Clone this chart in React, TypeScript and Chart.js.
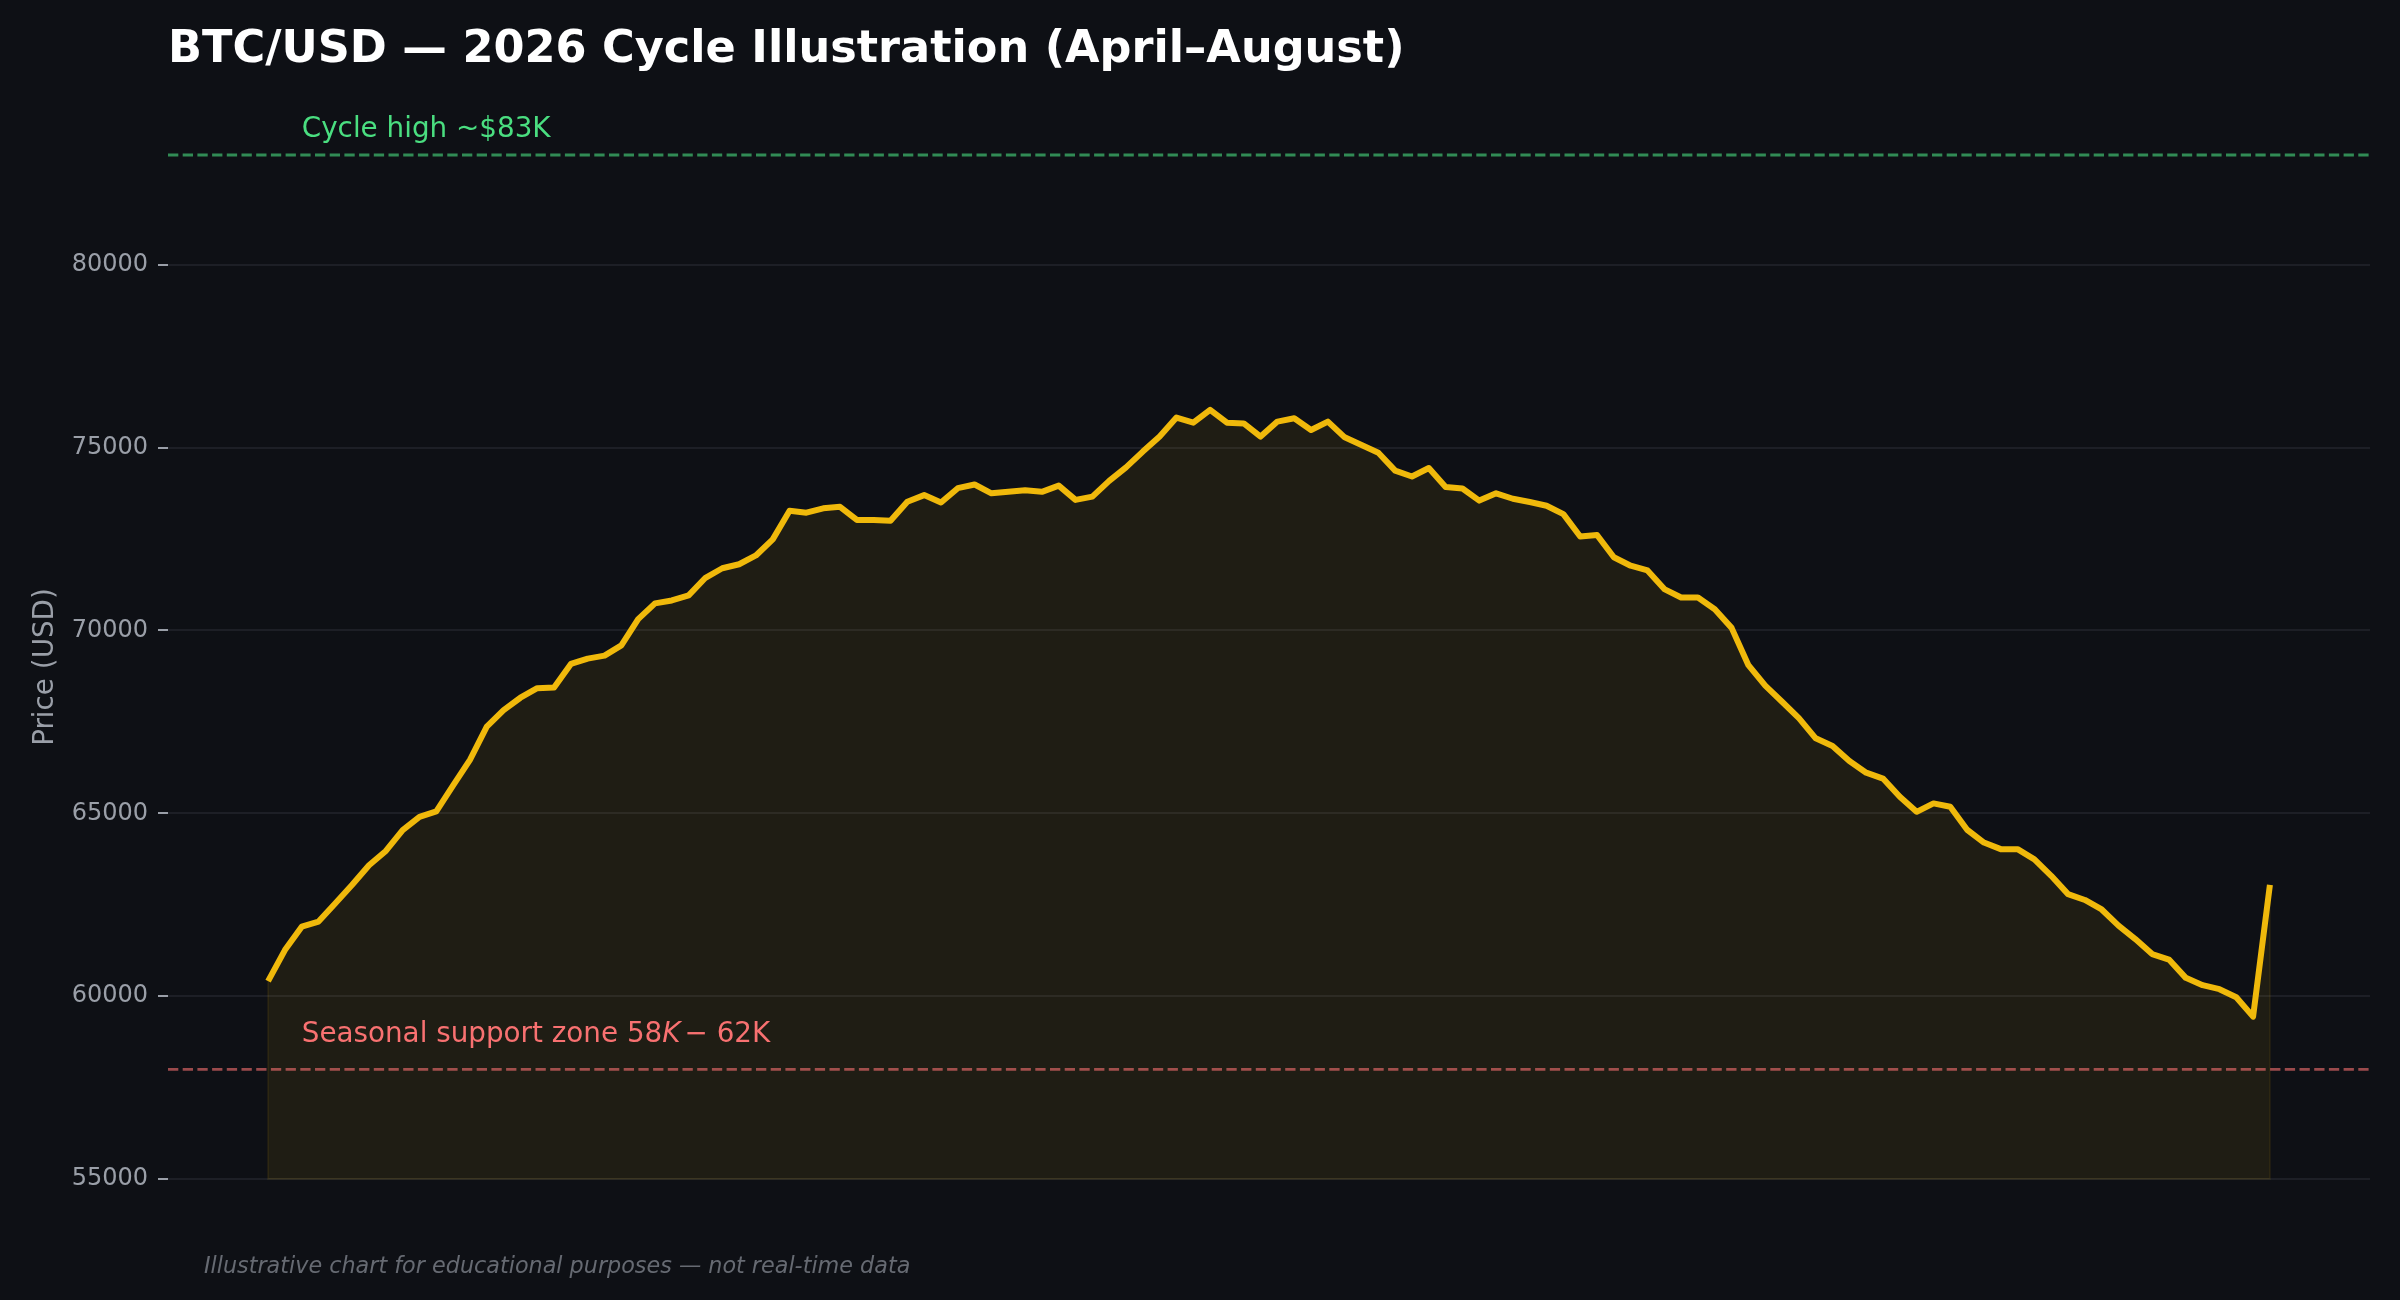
import { useEffect, useRef } from 'react';
import { Chart, registerables } from 'chart.js';

Chart.register(...registerables);

// daily closes, Apr -> early Aug (illustrative)
const prices = [
  60410, 61260, 61900, 62040, 62540, 63045, 63580, 63970, 64540, 64900,
  65050, 65760, 66460, 67370, 67820, 68160, 68420, 68440, 69085, 69230,
  69310, 69590, 70310, 70740, 70820, 70960, 71440, 71700, 71810, 72050,
  72490, 73270, 73220, 73340, 73380, 73020, 73020, 73000, 73520, 73700,
  73500, 73890, 73990, 73750, 73790, 73830, 73790, 73960, 73570, 73660,
  74090, 74460, 74890, 75300, 75820, 75680, 76030, 75680, 75660, 75300,
  75710, 75800, 75480, 75710, 75280, 75070, 74860, 74370, 74210, 74440,
  73920, 73880, 73550, 73750, 73600, 73510, 73410, 73180, 72570, 72610,
  72000, 71770, 71640, 71130, 70900, 70900, 70580, 70070, 69050, 68490,
  68050, 67600, 67050, 66840, 66430, 66110, 65950, 65450, 65040, 65270,
  65180, 64550, 64200, 64020, 64020, 63740, 63290, 62790, 62630, 62370,
  61930, 61560, 61150, 61000, 60500, 60300, 60190, 59970, 59440, 63040,
];

const yTicks = [55000, 60000, 65000, 70000, 75000, 80000];
const cycleHigh = 83000;
const supportLow = 58000;
const floorValue = 55000;

const BG = '#0e1015';
const GOLD = '#f0b90b';
const MUTED = '#9a9fa8';
const FONT = '"DejaVu Sans", sans-serif';

const decor = {
  id: 'decor',
  beforeDraw(chart: any) {
    const { ctx, width, height } = chart;
    ctx.save();
    ctx.fillStyle = BG;
    ctx.fillRect(0, 0, width, height);
    ctx.restore();
  },
  beforeDatasetsDraw(chart: any) {
    // faint outline of the shaded area, like matplotlib's fill_between edge
    const { ctx, scales } = chart;
    const x0 = scales.x.getPixelForValue(0);
    const x1 = scales.x.getPixelForValue(prices.length - 1);
    const yb = scales.y.getPixelForValue(floorValue);
    ctx.save();
    ctx.strokeStyle = 'rgba(240,185,11,0.08)';
    ctx.lineWidth = 2;
    ctx.beginPath();
    ctx.moveTo(x0, scales.y.getPixelForValue(prices[0]));
    ctx.lineTo(x0, yb);
    ctx.lineTo(x1, yb);
    ctx.lineTo(x1, scales.y.getPixelForValue(prices[prices.length - 1]));
    ctx.stroke();
    ctx.restore();
  },
  afterDatasetsDraw(chart: any) {
    const { ctx, chartArea, scales } = chart;
    const hline = (v: number, color: string) => {
      const y = scales.y.getPixelForValue(v);
      ctx.save();
      ctx.strokeStyle = color;
      ctx.lineWidth = 2.8;
      ctx.setLineDash([10.3, 4.4]);
      ctx.beginPath();
      ctx.moveTo(chartArea.left, y);
      ctx.lineTo(chartArea.right, y);
      ctx.stroke();
      ctx.restore();
    };
    hline(cycleHigh, 'rgba(74,222,128,0.6)');
    hline(supportLow, 'rgba(248,113,113,0.6)');
  },
  afterDraw(chart: any) {
    const { ctx, chartArea, scales } = chart;
    ctx.save();
    ctx.textBaseline = 'alphabetic';

    ctx.fillStyle = '#ffffff';
    ctx.font = `bold 44.6px ${FONT}`;
    ctx.fillText('BTC/USD — 2026 Cycle Illustration (April–August)', 168, 62);

    const tx = scales.x.getPixelForValue(2);
    ctx.font = `27.8px ${FONT}`;
    ctx.fillStyle = '#4ade80';
    ctx.fillText('Cycle high ~$83K', tx, scales.y.getPixelForValue(83500));

    // support label, with the mathtext-style italic K
    ctx.fillStyle = '#f87171';
    const sy = scales.y.getPixelForValue(58750);
    let sx = tx;
    const parts: [string, string, number][] = [
      ['Seasonal support zone 58', `27.8px ${FONT}`, 0],
      ['K', `italic 27.8px ${FONT}`, 4],
      ['− 62K', `27.8px ${FONT}`, 0],
    ];
    for (const [s, f, gap] of parts) {
      ctx.font = f;
      ctx.fillText(s, sx, sy);
      sx += ctx.measureText(s).width + gap;
    }

    ctx.fillStyle = MUTED;
    ctx.font = `27.8px ${FONT}`;
    ctx.translate(53, (chartArea.top + chartArea.bottom) / 2);
    ctx.rotate(-Math.PI / 2);
    ctx.textAlign = 'center';
    ctx.fillText('Price (USD)', 0, 0);
    ctx.restore();

    ctx.save();
    ctx.fillStyle = '#666a72';
    ctx.font = `italic 22.3px ${FONT}`;
    ctx.fillText('Illustrative chart for educational purposes — not real-time data', 204, 1273);
    ctx.restore();
  },
};

function PriceChart() {
  const ref = useRef<HTMLCanvasElement>(null);
  useEffect(() => {
    if (!ref.current) return;
    const n = prices.length - 1;
    const chart = new Chart(ref.current, {
      type: 'line',
      data: {
        datasets: [
          {
            data: prices.map((y, i) => ({ x: i, y })),
            borderColor: GOLD,
            borderWidth: 6,
            borderJoinStyle: 'round',
            pointRadius: 0,
            tension: 0,
            fill: { value: floorValue },
            backgroundColor: 'rgba(240,185,11,0.08)',
          },
        ],
      },
      options: {
        animation: false,
        responsive: false,
        devicePixelRatio: 1,
        layout: { padding: { top: 155, bottom: 121, left: 0, right: 30 } },
        plugins: { legend: { display: false }, tooltip: { enabled: false } },
        scales: {
          x: { type: 'linear', display: false, min: -0.05 * n, max: n * 1.05 },
          y: {
            min: floorValue,
            max: cycleHigh,
            afterBuildTicks: (s: any) => {
              s.ticks = yTicks.map((value) => ({ value }));
            },
            afterFit: (s: any) => {
              s.width = 168;
            },
            ticks: {
              color: MUTED,
              padding: 10,
              font: { family: 'DejaVu Sans', size: 24 },
              callback: (v: any) => String(v),
            },
            grid: {
              color: '#1d1f26',
              lineWidth: 2,
              tickLength: 10,
              tickColor: MUTED,
              tickWidth: 2,
            },
            border: { display: false },
          },
        },
      },
      plugins: [decor],
    } as any);
    return () => chart.destroy();
  }, []);
  return <canvas ref={ref} width={2400} height={1300} style={{ display: 'block', width: 2400, height: 1300 }} />;
}

export default function App() {
  useEffect(() => {
    document.body.style.margin = '0';
    document.body.style.background = BG;
  }, []);
  return (
    <div style={{ width: 2400, height: 1300, background: BG }}>
      <PriceChart />
    </div>
  );
}
